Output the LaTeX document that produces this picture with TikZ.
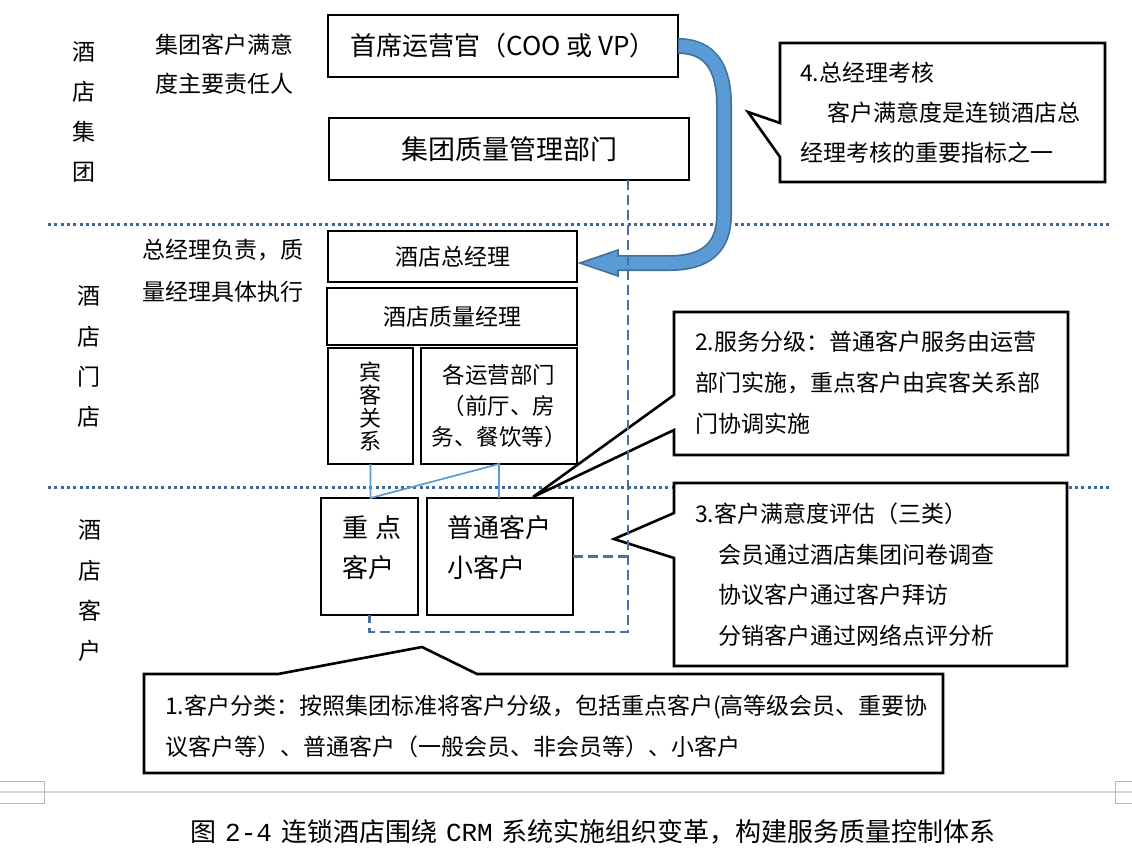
\documentclass[tikz,border=0pt]{standalone}
\usepackage{fontspec}
\setmainfont{Noto Sans CJK SC}
\newfontfamily\capmono{Liberation Mono}
\usetikzlibrary{calc}
\definecolor{dotblue}{RGB}{62,104,154}
\definecolor{dashblue}{RGB}{70,112,162}
\definecolor{linkblue}{RGB}{91,155,213}
\definecolor{arrowfill}{RGB}{91,155,213}
\definecolor{arrowline}{RGB}{65,113,156}
\definecolor{pagegray}{RGB}{217,217,217}
\definecolor{markgray}{RGB}{185,185,185}
\newcommand{\strutA}{\rule{0pt}{1em}}
\tikzset{
  box/.style={draw, line width=2.4pt, fill=white, inner sep=0pt, outer sep=0pt},
  txt/.style={inner sep=0pt, outer sep=0pt, align=left, anchor=north west},
  vtxt/.style={inner sep=0pt, outer sep=0pt, align=center, anchor=north},
  callout/.style={draw, line width=2.6pt, fill=white, line join=miter},
  grpline/.style={line width=3pt, color=dotblue, dash pattern=on 3pt off 3.3pt},
  dashline/.style={line width=2.8pt, color=dashblue, dash pattern=on 10pt off 5pt},
  link/.style={line width=1.7pt, color=linkblue},
  fA/.style={font=\fontsize{23}{40}\selectfont},
}
\begin{document}
\begin{tikzpicture}[x=1pt,y=-1pt]
\useasboundingbox (0,0) rectangle (1132,861);

% group separators
\coordinate (s1a) at (48,224); \coordinate (s1b) at (1110,224);
\coordinate (s2a) at (48,487); \coordinate (s2b) at (1110,487);
\draw[grpline] (s1a) -- (s1b);
\draw[grpline] (s2a) -- (s2b);

% boxes
\node[box, minimum width=350, minimum height=62, font=\fontsize{26}{30}\selectfont] (coo) at (503,46) {首席运营官（COO 或 VP）};
\node[box, minimum width=360, minimum height=62, font=\fontsize{27}{30}\selectfont] (qm) at (509,149) {集团质量管理部门};
\node[box, minimum width=249, minimum height=51, font=\fontsize{23}{30}\selectfont] (gm) at (452.5,256.5) {酒店总经理};
\node[box, minimum width=250, minimum height=57, font=\fontsize{23}{30}\selectfont] (qmgr) at (452,316.5) {酒店质量经理};
\node[box, minimum width=85, minimum height=116, align=center, font=\fontsize{22}{23}\selectfont] (bk) at (370.5,406) {宾\\客\\关\\系};
\node[box, minimum width=156, minimum height=116, align=center, font=\fontsize{22.5}{31}\selectfont] (yy) at (499,406) {各运营部门\\（前厅、房\\务、餐饮等）};
\node[box, minimum width=97, minimum height=117] (zd) at (369.5,556.5) {};
\node[box, minimum width=146, minimum height=117] (pt) at (500,556.5) {};
\node[txt, font=\fontsize{26}{40}\selectfont] (zdt) at (342,511.9) {\strutA 重\hspace{8pt}点\\客户};
\node[txt, font=\fontsize{26}{40}\selectfont] (ptt) at (447,511.9) {\strutA 普通客户\\小客户};

% big blue arrow from COO to hotel GM
\coordinate (ab1) at (724,105);
\coordinate (ab2) at (724,215);
\coordinate (ahead) at (618,263);
\coordinate (atip) at (580,263);
\draw[arrowline, line width=16pt] (coo.east) .. controls (712,46) and (724,70) .. (ab1) -- (ab2) .. controls (724,248) and (705,263) .. (670,263) -- (ahead);
\filldraw[fill=arrowfill, draw=arrowline, line width=1.6pt, line join=miter] ($(ahead)+(0,-13)$) -- (atip) -- ($(ahead)+(0,13)$) -- cycle;
\draw[arrowfill, line width=12.6pt] ($(coo.east)+(1.3,0)$) .. controls (712,46) and (724,70) .. (ab1) -- (ab2) .. controls (724,248) and (705,263) .. (670,263) -- ($(ahead)+(-4,0)$);

% thin links
\draw[link] (bk.south) -- (bk.south |- zd.north) -- (yy.south) -- (yy.south |- pt.north);

% callouts
\draw[callout] (780,43) -- (1105,43) -- (1105,182) -- (780,182) -- (780,157) -- (748,112) -- (780,123) -- cycle;
\draw[callout] (674,312) -- (1068,312) -- (1068,455) -- (674,455) -- (674,430) -- (533,497) -- (674,395) -- cycle;
\draw[callout] (674,483) -- (1067,483) -- (1067,666) -- (674,666) -- (674,558) -- (614,539) -- (674,513) -- cycle;
\draw[callout] (144,674) -- (278,674) -- (422,647) -- (477,674) -- (943,674) -- (943,773) -- (144,773) -- cycle;

% dashed quality-control line
\coordinate (dc) at (628,632);
\draw[dashline] (qm.south -| dc) -- (dc) -- (dc -| zd.south) -- (zd.south);
\draw[dashline] (pt.east) -- (pt.east -| dc);

% callout texts
\node[txt, fA] (c4t) at (800,58.7) {\strutA 4.总经理考核\\\hspace*{27pt}客户满意度是连锁酒店总\\经理考核的重要指标之一};
\node[txt, fA, font=\fontsize{23}{41}\selectfont] (c2t) at (695,327.7) {\strutA 2.服务分级：普通客户服务由运营\\部门实施，重点客户由宾客关系部\\门协调实施};
\node[txt, fA, font=\fontsize{23}{40.5}\selectfont] (c3t) at (695,499.7) {\strutA 3.客户满意度评估（三类）\\\hspace*{23.5pt}会员通过酒店集团问卷调查\\\hspace*{23.5pt}协议客户通过客户拜访\\\hspace*{23.5pt}分销客户通过网络点评分析};
\node[txt, fA, font=\fontsize{23}{41}\selectfont] (c1t) at (165,691.7) {\strutA 1.客户分类：按照集团标准将客户分级，包括重点客户(高等级会员、重要协\\议客户等）、普通客户（一般会员、非会员等）、小客户};

% side labels
\node[txt, font=\fontsize{23}{38.5}\selectfont] (l1) at (155,30.7) {\strutA 集团客户满意\\度主要责任人};
\node[txt, font=\fontsize{23}{42}\selectfont] (l2) at (142,235.7) {\strutA 总经理负责，质\\量经理具体执行};
\node[vtxt, font=\fontsize{23}{40}\selectfont] (g1) at (83.5,37.7) {\strutA 酒\\店\\集\\团};
\node[vtxt, font=\fontsize{23}{40.3}\selectfont] (g2) at (88.5,281.7) {\strutA 酒\\店\\门\\店};
\node[vtxt, font=\fontsize{23}{40.3}\selectfont] (g3) at (90,515.7) {\strutA 酒\\店\\客\\户};

% page margin marks
\draw[pagegray, line width=2pt] (0,792) -- (1132,792);
\draw[markgray, line width=0.8pt] (0,781) -- (44,781) -- (44,803) -- (0,803);
\draw[markgray, line width=0.8pt] (1132,781) -- (1115,781) -- (1115,803) -- (1132,803);

% caption
\node[inner sep=0pt, font=\fontsize{26}{30}\selectfont] (cap) at (593,832) {图\hspace{9pt}{\capmono 2-4}\hspace{9pt}连锁酒店围绕\hspace{9pt}{\capmono CRM}\hspace{9pt}系统实施组织变革，构建服务质量控制体系};
\end{tikzpicture}
\end{document}
